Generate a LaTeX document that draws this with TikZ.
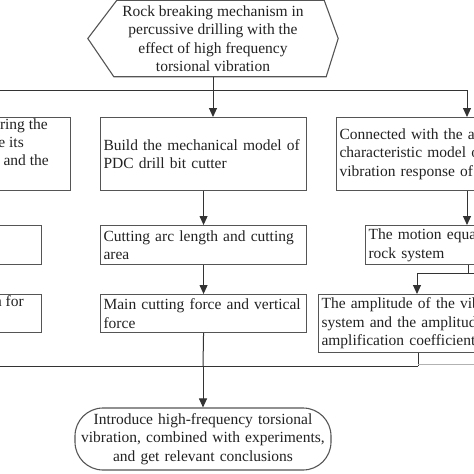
\documentclass[tikz,border=0pt]{standalone}
\usepackage{fontspec}
\setmainfont{Liberation Serif}
\usetikzlibrary{arrows.meta}
\definecolor{linec}{HTML}{333333}
\definecolor{boxc}{HTML}{555555}
\definecolor{txtc}{HTML}{222222}
\begin{document}
\begin{tikzpicture}[x=1pt,y=-1pt,
 every node/.style={font=\fontsize{15.5}{18.5}\selectfont, text=txtc},
 box/.style={draw=boxc, line width=1.1pt, inner xsep=3pt, inner ysep=0pt, align=left, anchor=north west},
 frag/.style={anchor=base east, inner sep=0pt},
 conn/.style={draw=linec, line width=1pt},
 arr/.style={conn, -{Triangle[length=9pt,width=8pt]}}]
\useasboundingbox (0,0) rectangle (474,474);
\clip (0,0) rectangle (474,474);

% top hexagon
\node[minimum width=250pt, minimum height=76pt, inner sep=0pt, align=center] (hex) at (213,38.5)
  {Rock breaking mechanism in\\percussive drilling with the\\effect of high frequency\\torsional vibration};
\draw[boxc, line width=1.1pt] (hex.west) -- ([xshift=29pt]hex.north west) -- ([xshift=-14pt]hex.north east)
  -- (hex.east) -- ([xshift=-12pt]hex.south east) -- ([xshift=26pt]hex.south west) -- cycle;

% left column (cut off)
\node[box, minimum width=200pt, minimum height=73pt, anchor=north east] (l1) at (71,117) {};
\node[frag] (l1a) at (48,129.5) {ring the};
\node[frag] (l1b) at (24,147.5) {e its};
\node[frag] (l1c) at (49,165.5) {and the};
\node[box, minimum width=200pt, minimum height=39pt, anchor=north east] (l2) at (42,225) {};
\node[box, minimum width=200pt, minimum height=38pt, anchor=north east] (l3) at (42,294) {};
\node[frag] (l3a) at (24,306.5) {n for};

% middle column
\node[box, text width=200pt, minimum height=73pt] (m1) at (100,117) {Build the mechanical model of\\PDC drill bit cutter};
\node[box, text width=200pt, minimum height=39pt] (m2) at (100,225) {Cutting arc length and cutting\\area};
\node[box, text width=200pt, minimum height=38pt] (m3) at (100,294) {Main cutting force and vertical\\force};

% right column (cut off)
\node[box, text width=300pt, minimum height=73pt] (r1) at (336,117) {Connected with the an\\characteristic model o\\vibration response of};
\node[box, text width=300pt, minimum height=39pt] (r2) at (365,225) {The motion equa\\rock system};
\node[box, text width=300pt, minimum height=58pt] (r3) at (318,294) {The amplitude of the vib\\system and the amplitude\\amplification coefficient};

% conclusion
\node[draw=boxc, line width=1.1pt, rounded corners=28pt, minimum width=256pt, minimum height=62pt,
  text width=250pt, align=center, inner sep=3pt] (con) at (203,439)
  {Introduce high-frequency torsional\\vibration, combined with experiments,\\and get relevant conclusions};

% connectors
\coordinate (jt) at (213,90);
\coordinate (tl) at (-20,90);
\coordinate (tr) at (467,90);
\draw[conn] (hex.south) -- (jt);
\draw[conn] (tl) -- (tr);
\draw[arr] (jt) -- (jt |- m1.north);
\draw[arr] (tr) -- (tr |- r1.north);
\draw[arr] (m1.south) -- (m2.north);
\draw[arr] (m2.south) -- (m3.north);
\draw[arr] (r1.south -| tr) -- (r2.north -| tr);
\coordinate (j2) at (468,273);
\coordinate (j3) at (417,273);
\coordinate (j4) at (490,273);
\draw[conn] (r2.south -| j2) -- (j2);
\draw[conn] (j3) -- (j4);
\draw[arr] (j3) -- (j3 |- r3.north);
\coordinate (jb) at (203,366);
\coordinate (bl) at (-20,366);
\coordinate (br) at (418,366);
\coordinate (bf) at (418,364);
\coordinate (bfr) at (490,364);
\draw[conn] (m3.south) -- (jb);
\draw[conn] (bl) -- (br);
\draw[conn] (r3.south -| br) -- (br);
\draw[gray!60, line width=0.8pt] (bf) -- (bfr);
\draw[arr] (jb) -- (con.north);
\end{tikzpicture}
\end{document}
